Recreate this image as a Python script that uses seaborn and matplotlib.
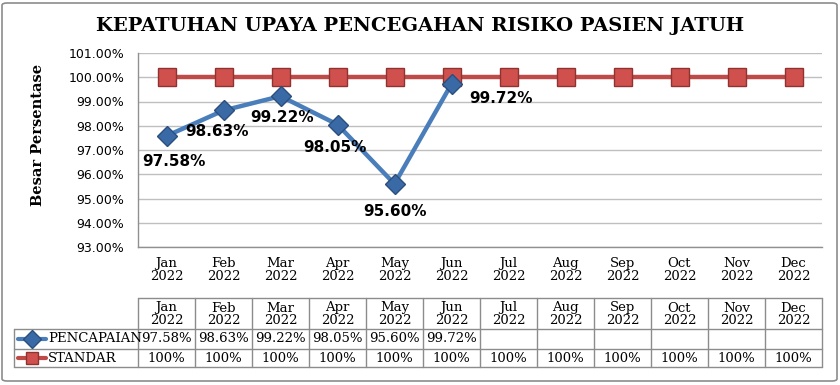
import numpy as np
import pandas as pd
import matplotlib
matplotlib.use('Agg')
import matplotlib.pyplot as plt
import matplotlib.transforms as mtransforms
from matplotlib.lines import Line2D
from matplotlib.patches import FancyBboxPatch
import seaborn as sns

# data
bulan = ['Jan', 'Feb', 'Mar', 'Apr', 'May', 'Jun', 'Jul', 'Aug', 'Sep', 'Oct', 'Nov', 'Dec']
tahun = '2022'
pencapaian = [97.58, 98.63, 99.22, 98.05, 95.60, 99.72, None, None, None, None, None, None]
standar = [100, 100, 100, 100, 100, 100, 100, 100, 100, 100, 100, 100]
y_ticks = [93, 94, 95, 96, 97, 98, 99, 100, 101]

# label offsets (pixels) for the data labels, like in the original
label_offset = [(7, -26), (-7, -21), (2, -21), (-3, -23), (0, -28), (50, -14)]

BLUE = '#4A7EBB'
BLUE_M = '#3A6AA6'
BLUE_E = '#2A4F7E'
RED = '#BE4B48'
RED_M = '#D0504D'
RED_E = '#8E3330'

sns.set_style('white')
plt.rcParams['font.family'] = ['DejaVu Sans']
plt.rcParams['text.color'] = 'black'
plt.rcParams['xtick.color'] = 'black'
plt.rcParams['ytick.color'] = 'black'

W, H = 840, 385
fig = plt.figure(figsize=(W / 100, H / 100), dpi=100)
ax = fig.add_axes([138 / W, 1 - 247 / H, 684 / W, 194 / H])

df = pd.DataFrame({
    'x': np.arange(len(bulan)),
    'pencapaian': pd.array(pencapaian, dtype='Float64').astype(float),
    'standar': standar,
})

sns.lineplot(data=df, x='x', y='standar', ax=ax, color=RED, lw=3.2,
             marker='s', markersize=12.5, markerfacecolor=RED_M,
             markeredgecolor=RED_E, markeredgewidth=1.0, zorder=3)
d = df.dropna(subset=['pencapaian'])
sns.lineplot(data=d, x='x', y='pencapaian', ax=ax, color=BLUE, lw=3.2,
             marker='D', markersize=10.5, markerfacecolor=BLUE_M,
             markeredgecolor=BLUE_E, markeredgewidth=1.0, zorder=4)

# data labels
for (xi, yi), off in zip(zip(d['x'], d['pencapaian']), label_offset):
    ax.annotate(f'{yi:.2f}%', (xi, yi), xytext=off, textcoords='offset pixels',
                ha='center', va='center', fontsize=11, fontweight='bold',
                color='black', zorder=6)

ax.set_xlim(-0.5, len(bulan) - 0.5)
ax.set_ylim(93, 101)
ax.set_yticks(y_ticks)
ax.set_yticklabels([f'{v:.2f}%' for v in y_ticks], fontsize=9)
ax.set_xticks(np.arange(len(bulan)))
ax.set_xticklabels([f'{b}\n{tahun}' for b in bulan], fontsize=9.5,
                   family='DejaVu Serif', linespacing=1.0)
ax.tick_params(axis='x', length=0, pad=7)
ax.tick_params(axis='y', length=0, pad=10)
ax.grid(axis='y', color='#BFBFBF', lw=1)
ax.set_axisbelow(True)
ax.set_xlabel('')
ax.set_ylabel('')
for s in ['top', 'right']:
    ax.spines[s].set_visible(False)
for s in ['left', 'bottom']:
    ax.spines[s].set_color('#909090')
    ax.spines[s].set_linewidth(1)

# title + y label
fig.text(420 / W, 1 - 26 / H, 'KEPATUHAN UPAYA PENCEGAHAN RISIKO PASIEN JATUH',
         ha='center', va='center', fontsize=14, fontweight='bold', family='DejaVu Serif',
         color='black')
fig.text(38 / W, 1 - 135 / H, 'Besar Persentase', rotation=90, ha='center', va='center',
         fontsize=10.5, fontweight='bold', family='DejaVu Serif', color='black')

# data table under the chart
tr = mtransforms.blended_transform_factory(ax.transData, fig.transFigure)
def fy(py):
    return 1 - py / H

y_top, y_hdr, y_r1, y_r2 = 298, 329, 349, 367
gc = '#8C8C8C'
n = len(bulan)
# horizontal lines
fig.add_artist(Line2D([-0.5, n - 0.5], [fy(y_top)] * 2, transform=tr, color=gc, lw=1))
for yy in [y_hdr, y_r1, y_r2]:
    fig.add_artist(Line2D([14 / W, 822 / W], [fy(yy)] * 2, transform=fig.transFigure, color=gc, lw=1))
fig.add_artist(Line2D([14 / W, 14 / W], [fy(y_hdr), fy(y_r2)], transform=fig.transFigure, color=gc, lw=1))
for i in range(n + 1):
    fig.add_artist(Line2D([i - 0.5, i - 0.5], [fy(y_top), fy(y_r2)], transform=tr, color=gc, lw=1))

for i, b in enumerate(bulan):
    fig.text(i, fy((y_top + y_hdr) / 2 + 1), f'{b}\n{tahun}', transform=tr, ha='center', va='center',
             fontsize=9.5, family='DejaVu Serif', linespacing=1.0)
    if pencapaian[i] is not None:
        fig.text(i, fy((y_hdr + y_r1) / 2), f'{pencapaian[i]:.2f}%', transform=tr, ha='center',
                 va='center', fontsize=9.5, family='DejaVu Serif')
    fig.text(i, fy((y_r1 + y_r2) / 2), f'{standar[i]}%', transform=tr, ha='center', va='center',
             fontsize=9.5, family='DejaVu Serif')

# legend keys inside the table
for yy, col, mk, mf, me, ms, name in [
        ((y_hdr + y_r1) / 2, BLUE, 'D', BLUE_M, BLUE_E, 9, 'PENCAPAIAN'),
        ((y_r1 + y_r2) / 2, RED, 's', RED_M, RED_E, 9, 'STANDAR')]:
    fig.add_artist(Line2D([18 / W, 46 / W], [fy(yy)] * 2, transform=fig.transFigure,
                          color=col, lw=3))
    fig.add_artist(Line2D([32 / W], [fy(yy)], transform=fig.transFigure, marker=mk,
                          markersize=ms, markerfacecolor=mf, markeredgecolor=me, lw=0))
    fig.text(48 / W, fy(yy), name, ha='left', va='center', fontsize=9.5, family='DejaVu Serif')

# outer border
fig.add_artist(FancyBboxPatch((2 / W, 4 / H), 835 / W, 378 / H, boxstyle='round,pad=0,rounding_size=0.006',
                              transform=fig.transFigure, fill=False, ec='#8C8C8C', lw=1.2))

fig.savefig('out.png', dpi=100)
